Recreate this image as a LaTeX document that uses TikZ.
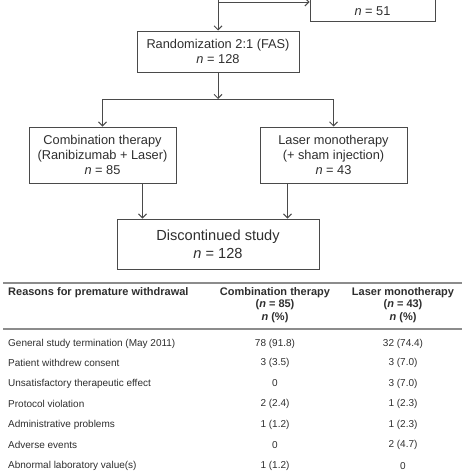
\documentclass[tikz,border=0pt]{standalone}
\usepackage{fontspec}
\setmainfont{Liberation Sans}
\usepackage{xcolor}
\usetikzlibrary{positioning, calc, arrows.meta}

\definecolor{boxgray}{HTML}{4A4A4A}
\definecolor{txtgray}{HTML}{2E2E2E}
\definecolor{rulegray}{HTML}{8C8C8C}

\tikzset{
  flowbox/.style={draw=boxgray, line width=1pt, align=center, inner sep=0pt, text=txtgray,
    font=\fontsize{12.8}{15}\selectfont},
  arr/.style={-{Straight Barb[length=4pt,width=8pt]}, draw=boxgray, line width=1pt},
  tabrule/.style={draw=rulegray, line width=1.6pt},
  headcell/.style={inner sep=0pt, text=txtgray, align=center, font=\fontsize{11}{12.5}\selectfont\bfseries},
  cell/.style={inner sep=0pt, text=txtgray, font=\fontsize{10}{12}\selectfont},
}

\begin{document}
\begin{tikzpicture}[x=1pt, y=-1pt]
        \clip (0,0) rectangle (474,474);

        % Flow chart
        \node[flowbox, minimum width=125pt, minimum height=37pt] (excl) at (372.5,2.5) {\strut\\\textit{n} = 51};
        \node[flowbox, minimum width=162pt, minimum height=41pt] (rand) at (218,51.5) {Randomization 2:1 (FAS)\\\textit{n} = 128};
        \node[flowbox, minimum width=147pt, minimum height=56pt] (combo) at (102.5,155) {Combination therapy\\(Ranibizumab + Laser)\\\textit{n} = 85};
        \node[flowbox, minimum width=147pt, minimum height=56pt] (laser) at (333.5,155) {Laser monotherapy\\(+ sham injection)\\\textit{n} = 43};
        \node[flowbox, minimum width=202pt, minimum height=50pt, font=\fontsize{14.6}{18}\selectfont] (disc) at (218,244) {Discontinued study\\\textit{n} = 128};

        \coordinate (top) at (218,-10);
        \coordinate (split) at (218,2);
        \coordinate (fork) at (218,99);
        \draw[arr] (top) -- (rand.north);
        \draw[arr] (split) -- (split -| excl.west);
        \draw[arr] (rand.south) -- (fork);
        \draw[arr] (fork) -| (combo.north);
        \draw[arr] (fork) -| (laser.north);

        \coordinate (cout) at ([xshift=40pt]combo.south);
        \coordinate (lout) at ([xshift=-46pt]laser.south);
        \draw[arr] (cout) -- (cout |- disc.north);
        \draw[arr] (lout) -- (lout |- disc.north);

        % Table of withdrawal reasons
        \coordinate (tl) at (3,283);
        \coordinate (tr) at (462,283);
        \coordinate (hl) at (3,329);
        \coordinate (hr) at (462,329);
        \draw[tabrule] (tl) -- (tr);
        \draw[tabrule] (hl) -- (hr);

        \node[headcell, anchor=west] (hreason) at (8,293) {Reasons for premature withdrawal};
        \node[headcell] (hcombo) at (275,305) {Combination therapy\\(\textit{n} = 85)\\\textit{n} (\%)};
        \node[headcell] (hlaser) at (403,305) {Laser monotherapy\\(\textit{n} = 43)\\\textit{n} (\%)};

        \node[cell, anchor=west] (r1) at (8,344) {General study termination (May 2011)};
        \node[cell] (r1c) at (275,344) {78 (91.8)};
        \node[cell] (r1l) at (403,344) {32 (74.4)};

        \node[cell, anchor=west] (r2) at (8,363) {Patient withdrew consent};
        \node[cell] (r2c) at (275,363) {3 (3.5)};
        \node[cell] (r2l) at (403,363) {3 (7.0)};

        \node[cell, anchor=west] (r3) at (8,383.5) {Unsatisfactory therapeutic effect};
        \node[cell] (r3c) at (275,383.5) {0};
        \node[cell] (r3l) at (403,383.5) {3 (7.0)};

        \node[cell, anchor=west] (r4) at (8,404) {Protocol violation};
        \node[cell] (r4c) at (275,404) {2 (2.4)};
        \node[cell] (r4l) at (403,404) {1 (2.3)};

        \node[cell, anchor=west] (r5) at (8,424.5) {Administrative problems};
        \node[cell] (r5c) at (275,424.5) {1 (1.2)};
        \node[cell] (r5l) at (403,424.5) {1 (2.3)};

        \node[cell, anchor=west] (r6) at (8,445) {Adverse events};
        \node[cell] (r6c) at (275,445) {0};
        \node[cell] (r6l) at (403,445) {2 (4.7)};

        \node[cell, anchor=west] (r7) at (8,466) {Abnormal laboratory value(s)};
        \node[cell] (r7c) at (275,466) {1 (1.2)};
        \node[cell] (r7l) at (403,466) {0};
\end{tikzpicture}
\end{document}
